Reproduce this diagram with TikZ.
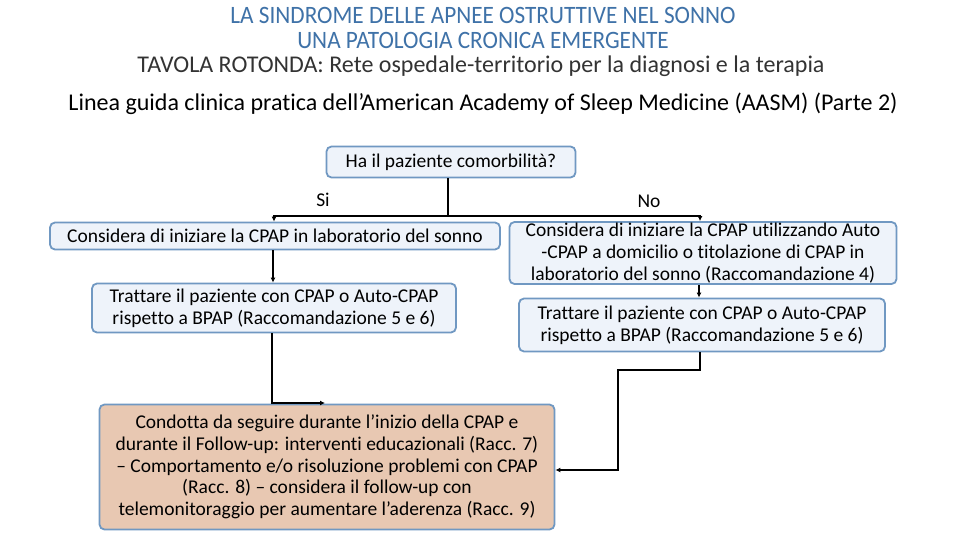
\documentclass[tikz,border=0pt]{standalone}
\usepackage{fontspec}
\setmainfont{Carlito}[RawFeature=-liga]
\usetikzlibrary{arrows.meta}
\definecolor{titleblue}{HTML}{3F72A8}
\definecolor{boxborder}{HTML}{7098C2}
\definecolor{boxfill}{HTML}{EEF3FA}
\definecolor{finfill}{HTML}{E8C8B2}
\definecolor{subgray}{HTML}{333333}
\tikzset{
  box/.style={draw=boxborder, line width=1.8pt, fill=boxfill, rounded corners=5pt, align=center, inner sep=1pt, font=\fontsize{19.5}{21.7}\selectfont},
  finbox/.style={box, fill=finfill},
  conn/.style={draw=black, line width=1.8pt},
  arr/.style={conn, -{Latex[length=5pt,width=5pt]}},
  lbl/.style={font=\fontsize{19.5}{22}\selectfont},
  ttl/.style={text=titleblue, font=\fontsize{25}{28}\selectfont}
}
\begin{document}
\begin{tikzpicture}[x=1pt,y=-1pt]
\useasboundingbox[fill=white] (0,0) rectangle (960,540);
% titles
\node[ttl] (t1) at (483,15) {\scalebox{0.93}[1]{LA SINDROME DELLE APNEE OSTRUTTIVE NEL SONNO}};
\node[ttl] (t2) at (483,40) {\scalebox{0.93}[1]{UNA PATOLOGIA CRONICA EMERGENTE}};
\node[text=subgray, font=\fontsize{24}{28}\selectfont] (t3) at (481,66) {TAVOLA ROTONDA: Rete ospedale-territorio per la diagnosi e la terapia};
\node[text=black, font=\fontsize{24}{28}\selectfont] (t4) at (483,104) {Linea guida clinica pratica dell’American Academy of Sleep Medicine (AASM) (Parte 2)};
% boxes
\node[box, minimum width=249, minimum height=31] (q) at (451,162) {Ha il paziente comorbilità?};
\node[box, minimum width=450, minimum height=27] (si1) at (275,236) {Considera di iniziare la CPAP in laboratorio del sonno};
\node[box, minimum width=387, minimum height=62] (no1) at (703,253) {Considera di iniziare la CPAP utilizzando Auto\\-CPAP a domicilio o titolazione di CPAP in\\laboratorio del sonno (Raccomandazione 4)};
\node[box, minimum width=364, minimum height=49] (si2) at (274,308) {Trattare il paziente con CPAP o Auto-CPAP\\rispetto a BPAP (Raccomandazione 5 e 6)};
\node[box, minimum width=366, minimum height=53] (no2) at (702,325) {Trattare il paziente con CPAP o Auto-CPAP\\rispetto a BPAP (Raccomandazione 5 e 6)};
\node[finbox, minimum width=455, minimum height=125] (fin) at (327,467) {Condotta da seguire durante l’inizio della CPAP e\\durante il Follow-up: interventi educazionali (Racc. 7)\\– Comportamento e/o risoluzione problemi con CPAP\\(Racc. 8) – considera il follow-up con\\telemonitoraggio per aumentare l’aderenza (Racc. 9)};
% labels
\node[lbl] (si) at (323,200) {Si};
\node[lbl] (no) at (649,201) {No};
% connectors
\coordinate (jc) at (448,216);
\coordinate (jl) at (274,216);
\coordinate (jr) at (700,216);
\draw[conn] (q.south -| jc) -- (jc);
\draw[arr] (jc) -- (jl) -- (jl |- si1.north);
\draw[arr] (jc) -- (jr) -- (jr |- no1.north);
\coordinate (a1) at (273,0);
\draw[arr] (si1.south -| a1) -- (si2.north -| a1);
\coordinate (a2) at (699,0);
\draw[arr] (no1.south -| a2) -- (no2.north -| a2);
\coordinate (b1) at (272,403);
\coordinate (b2) at (325,403);
\draw[arr] (si2.south -| b1) -- (b1) -- (b2);
\coordinate (c1) at (700,370);
\coordinate (c2) at (618,370);
\coordinate (c3) at (618,470);
\draw[arr] (no2.south -| c1) -- (c1) -- (c2) -- (c3) -- (fin.east |- c3);
\end{tikzpicture}
\end{document}
